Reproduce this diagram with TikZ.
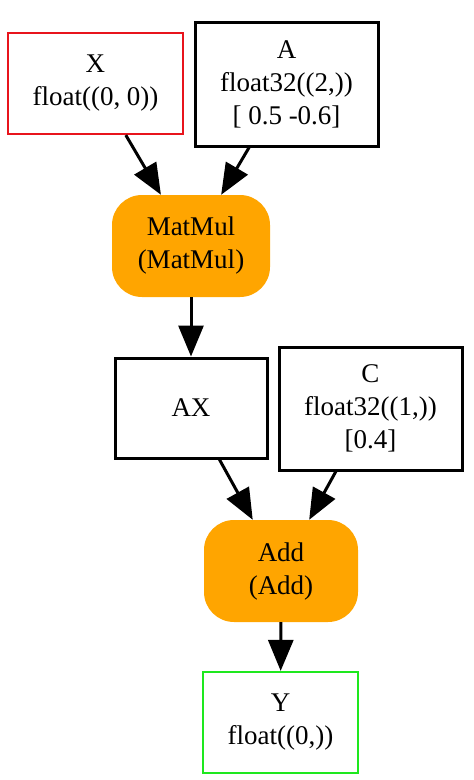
\documentclass[tikz,border=0pt]{standalone}
\usepackage{fontspec}
\setmainfont{Liberation Serif}
\usetikzlibrary{arrows.meta}
\definecolor{gvorange}{HTML}{FFA500}
\definecolor{gvred}{HTML}{E8141C}
\definecolor{gvgreen}{HTML}{1EE81E}
\tikzset{
  base/.style={rectangle, align=center, inner sep=0pt, font=\fontsize{27}{33}\selectfont},
  tensor/.style={base, draw=black, line width=3pt},
  inbox/.style={base, draw=gvred, line width=2.2pt},
  outbox/.style={base, draw=gvgreen, line width=2.2pt},
  opnode/.style={base, fill=gvorange, rounded corners=30pt},
  edge/.style={line width=3pt, -{Triangle[length=31pt,width=25pt]}}
}
\begin{document}
\begin{tikzpicture}[x=1pt,y=-1pt]
\useasboundingbox (0,0) rectangle (474,780);
\node[inbox, minimum width=175pt, minimum height=101pt] (X) at (95.5,83.5) {X\\float((0, 0))};
\node[tensor, minimum width=183pt, minimum height=124pt] (A) at (286.5,84) {A\\float32((2,))\\{[} 0.5 -0.6{]}};
\node[opnode, minimum width=158pt, minimum height=102pt] (MatMul) at (191,246) {MatMul\\(MatMul)};
\node[tensor, minimum width=152pt, minimum height=100pt] (AX) at (191,408) {AX};
\node[tensor, minimum width=183pt, minimum height=123pt] (C) at (370.5,408.5) {C\\float32((1,))\\{[}0.4{]}};
\node[opnode, minimum width=154pt, minimum height=102pt] (Add) at (281,571) {Add\\(Add)};
\node[outbox, minimum width=155pt, minimum height=101pt] (Y) at (280.5,722.5) {Y\\float((0,))};
\draw[edge] (X) -- (MatMul);
\draw[edge] (A) -- (MatMul);
\draw[edge] (MatMul) -- (AX);
\draw[edge] (AX) -- (Add);
\draw[edge] (C) -- (Add);
\draw[edge] (Add) -- (Y);
\end{tikzpicture}
\end{document}
